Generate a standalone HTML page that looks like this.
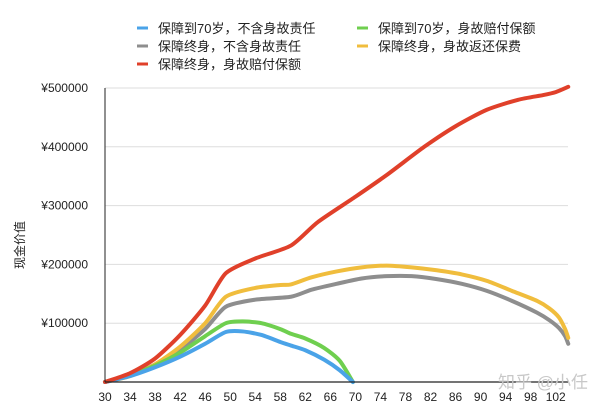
<!DOCTYPE html>
<html><head><meta charset="utf-8"><style>
body{margin:0;background:#fff;}
svg text{font-family:"Liberation Sans","Noto Sans CJK SC",sans-serif;fill:#222;}
</style></head><body>
<svg id="c" width="600" height="408" xmlns="http://www.w3.org/2000/svg">
<g id="legend"></g>
<g id="grid"></g><g id="lines"></g><g id="axes"></g>
<text x="0" y="0" transform="translate(24,245) rotate(-90)" text-anchor="middle" font-size="12">现金价值</text>
<text x="498" y="388" font-size="17" style="fill:#c8c8c8">知乎 @小任</text>
</svg>
<script>
const xTicks=[30,34,38,42,46,50,54,58,62,66,70,74,78,82,86,90,94,98,102];
const yTicks=[100000,200000,300000,400000,500000];
const seriesNames=["保障到70岁，不含身故责任","保障到70岁，身故赔付保额","保障终身，不含身故责任","保障终身，身故返还保费","保障终身，身故赔付保额"];
const seriesColors=["#4aa3e8","#6fcf4f","#8e8e8e","#f0bd3d","#e0402a"];
const blueAges=[30,34,38,42,46,49.3,52,55,58,59.7,62,65,67.5,69.6];
const blueVals=[0,10000,25000,43000,65000,85000,86000,80000,68000,62000,54000,38000,20000,0];
const greenAges=[30,34,38,42,46,49.3,52,55,58,59.7,62,65,67.5,69.6];
const greenVals=[0,12000,28000,50000,78000,100000,103000,100000,90000,82000,74000,58000,36000,0];
const grayAges=[30,34,38,42,46,49.3,54,59.7,63,67,71,75,79,83,87,91,95,99,101,102.5,103.5,104];
const grayVals=[0,12000,30000,55000,90000,128000,140000,145000,157000,167000,176000,180000,180000,175000,167000,155000,138000,118000,105000,92000,78000,65000];
const yellowAges=[30,34,38,42,46,49.3,54,58,59.7,63,67,71,75,79,83,87,91,95,99,101,102.5,103.5,104];
const yellowVals=[0,10000,30000,60000,100000,145000,160000,165000,166000,178000,188000,195000,198000,195000,190000,183000,172000,155000,138000,125000,110000,90000,75000];
const redAges=[30,34,38,42,46,49.3,54,59.7,64,70,75,81,86,91,96,100,102,104];
const redVals=[0,15000,40000,80000,130000,185000,210000,232000,272000,315000,352000,400000,435000,463000,480000,488000,493000,502000];

const NS="http://www.w3.org/2000/svg";
const X0=105,Y0=382,XEND=568;
const xs=a=>X0+(a-30)*6.26;
const ys=v=>Y0-v*(294/500000);
function mk(t,p,parent){const e=document.createElementNS(NS,t);for(const k in p)e.setAttribute(k,p[k]);parent.appendChild(e);return e;}
const grid=document.getElementById('grid'),axes=document.getElementById('axes'),lines=document.getElementById('lines'),legend=document.getElementById('legend');
yTicks.forEach(v=>{
 const l=mk('line',{x1:X0,x2:XEND,y1:ys(v),y2:ys(v),stroke:'#ddd','stroke-width':1},grid);
 
 
 const t=mk('text',{x:88,y:ys(v)+4,'text-anchor':'end','font-size':12},axes);
 t.textContent='¥'+v;
 
 
});
xTicks.forEach(a=>{
 const t=mk('text',{x:xs(a),y:401,'text-anchor':'middle','font-size':12},axes);
 t.textContent=a;
 
 
});
const ya=mk('line',{x1:X0,x2:X0,y1:88,y2:Y0,stroke:'#222','stroke-width':1},axes);


const xa=mk('line',{x1:X0,x2:XEND,y1:Y0,y2:Y0,stroke:'#222','stroke-width':1.2},axes);


function smoothPath(pts){
 let d='M'+pts[0][0]+','+pts[0][1];
 for(let i=0;i<pts.length-1;i++){
  const p0=pts[i-1]||pts[i],p1=pts[i],p2=pts[i+1],p3=pts[i+2]||p2;
  const k=0.12;
  d+=' C'+(p1[0]+(p2[0]-p0[0])*k)+','+(p1[1]+(p2[1]-p0[1])*k)+' '+(p2[0]-(p3[0]-p1[0])*k)+','+(p2[1]-(p3[1]-p1[1])*k)+' '+p2[0]+','+p2[1];
 }
 return d;
}
const data=[[grayAges,grayVals,2],[yellowAges,yellowVals,3],[greenAges,greenVals,1],[blueAges,blueVals,0],[redAges,redVals,4]];
const lineNames=['line-gray','line-yellow','line-green','line-blue','line-red'];
data.forEach((d,i)=>{
 const pts=d[0].map((a,j)=>[xs(a),ys(d[1][j])]);
 const p=mk('path',{d:smoothPath(pts),fill:'none',stroke:seriesColors[d[2]],'stroke-width':4,'stroke-linejoin':'round','stroke-linecap':'round'},lines);
 
 
});
const lpos=[[137,28],[357,28],[137,46],[357,46],[137,64]];
seriesNames.forEach((n,i)=>{
 const g=mk('g',{},legend);
 
 
 mk('line',{x1:lpos[i][0],x2:lpos[i][0]+11,y1:lpos[i][1],y2:lpos[i][1],stroke:seriesColors[i],'stroke-width':3},g);
 const t=mk('text',{x:lpos[i][0]+21,y:lpos[i][1]+5,'font-size':13},g);
 t.textContent=n;
});
</script>
</body></html>
